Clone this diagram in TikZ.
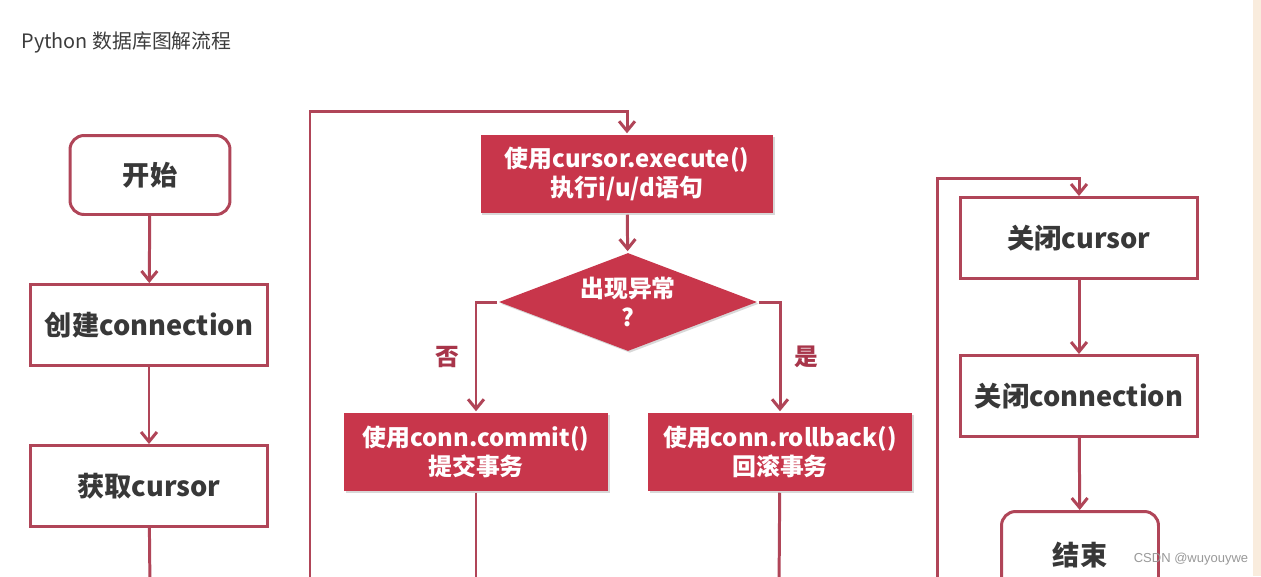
\documentclass[tikz,border=0pt]{standalone}
\usepackage{fontspec}
\setmainfont{Noto Sans CJK SC}
\newfontfamily\wmfont{Liberation Sans}
\usetikzlibrary{shapes.geometric,arrows.meta,shadows}
\definecolor{boxline}{HTML}{B04558}
\definecolor{boxfill}{HTML}{C8364B}
\definecolor{boxtext}{HTML}{383838}
\definecolor{titletext}{HTML}{3C3C3C}
\definecolor{answertext}{HTML}{A8354A}
\definecolor{paper}{HTML}{F9ECDD}

\begin{document}
\begin{tikzpicture}[x=0.02cm,y=-0.02cm,
  line width=1.7pt, color=boxline,
  >={Straight Barb[length=5.5pt,width=9pt]},
  startstop/.style={draw=boxline,fill=white,rounded corners=8pt,
    minimum width=3.2cm,minimum height=1.58cm,text=boxtext,
    font=\bfseries\fontsize{15.5}{18}\selectfont},
  whitebox/.style={draw=boxline,fill=white,
    minimum width=4.76cm,minimum height=1.62cm,text=boxtext,
    font=\bfseries\fontsize{15.5}{18}\selectfont},
  redbox/.style={draw=none,fill=boxfill,text=white,align=center,
    minimum height=1.57cm,inner sep=2pt,
    drop shadow={opacity=0.3,shadow xshift=1pt,shadow yshift=-1pt},
    font=\bfseries\fontsize{13.6}{16.4}\selectfont},
  decision/.style={diamond,draw=none,fill=boxfill,text=white,align=center,
    aspect=2.6,inner sep=0pt,minimum width=5.18cm,minimum height=1.98cm,
    drop shadow={opacity=0.3,shadow xshift=1pt,shadow yshift=-1pt},
    font=\bfseries\fontsize{13.6}{16.4}\selectfont},
  answer/.style={text=answertext,font=\bfseries\fontsize{13.5}{15}\selectfont}]

  \clip (0,0) rectangle (1261,576);
  \fill[white] (0,0) rectangle (1261,576);
  \fill[paper] (1253,0) rectangle (1261,576);

  \node (title) at (20,48) [anchor=base west,inner sep=0pt,text=titletext,
    font=\fontsize{11.3}{13}\selectfont]{Python 数据库图解流程};

  % left column
  \node (start) at (150,175) [startstop]{开始};
  \node (conn) at (149,325) [whitebox]{创建connection};
  \node (cur) at (149,486) [whitebox]{获取cursor};
  \coordinate (curout) at (150,590);

  % middle column
  \coordinate (loopin) at (310,590);
  \coordinate (looptop) at (310,111);
  \node (exec) at (627,174) [redbox,minimum width=5.86cm]{使用cursor.execute()\\执行i/u/d语句};
  \node (err) at (628,302) [decision]{出现异常\\?};
  \node (no) at (447,357) [answer]{否};
  \node (yes) at (806,357) [answer]{是};
  \node (commit) at (476,452) [redbox,minimum width=5.28cm]{使用conn.commit()\\提交事务};
  \node (rollback) at (780,452) [redbox,minimum width=5.28cm]{使用conn.rollback()\\回滚事务};
  \coordinate (commitout) at (476,590);
  \coordinate (rollbackout) at (779,590);

  % right column
  \coordinate (closein) at (937,590);
  \coordinate (closetop) at (937,178);
  \node (closecur) at (1079,238) [whitebox]{关闭cursor};
  \node (closeconn) at (1079,396) [whitebox]{关闭connection};
  \node (finish) at (1080,555) [startstop,minimum width=3.14cm,minimum height=1.74cm]{结束};

  \node (mark) at (1191,559) [text=black!40,font=\wmfont\fontsize{7.4}{9}\selectfont]{CSDN @wuyouywe};


  \draw[->] (start) -- (conn);
  \draw[->] (conn) -- (cur);
  \draw (cur) -- (curout);

  \draw[->] (loopin) -- (looptop) -| (exec.north);
  \draw[->] (exec) -- (err);
  \draw[->] (err.west) -| (commit.north);
  \draw[->] (err.east) -| (rollback.north);
  \draw (commit) -- (commitout);
  \draw (rollback) -- (rollbackout);

  \draw[->] (closein) -- (closetop) -| (closecur.north);
  \draw[->] (closecur) -- (closeconn);
  \draw[->] (closeconn) -- (finish);

\end{tikzpicture}
\end{document}
